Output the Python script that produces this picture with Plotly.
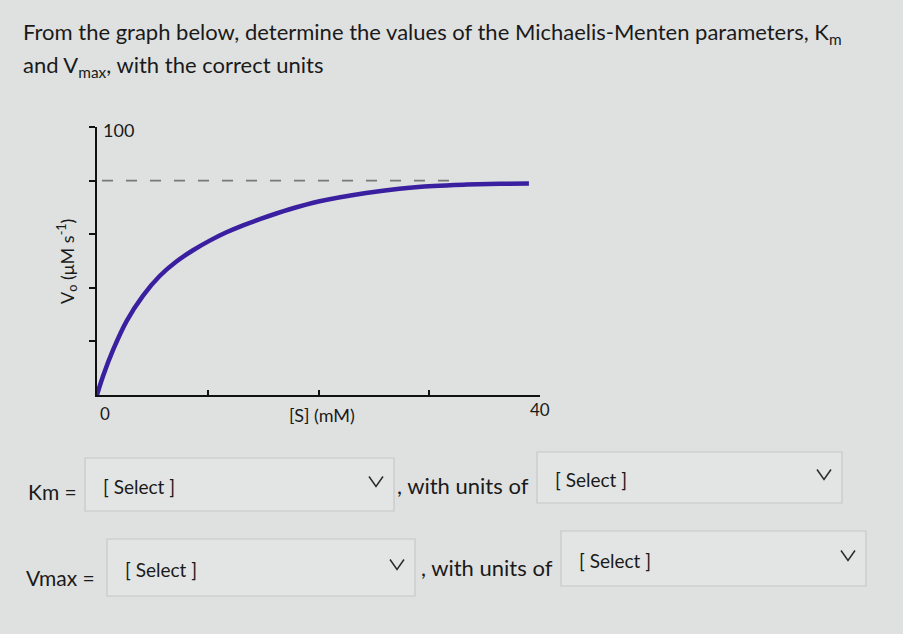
import plotly.graph_objects as go

W, H = 903, 634

# curve: [S] in mM, V0 in uM/s
substrate_mM = [0, 0.54, 1.45, 2.66, 4.16, 5.66, 7.17, 8.67, 10.18, 11.69,
                13.19, 14.7, 17.4, 20.1, 24.3, 27.3, 30.4, 33.4, 36.4, 39.0]
velocity = [0, 7.0, 16.8, 27.5, 37.1, 44.4, 49.8, 54.0, 57.6, 60.7,
            63.3, 65.6, 69.3, 72.3, 75.4, 77.0, 78.0, 78.5, 78.8, 78.9]
vmax_level = 80
dash_end_mM = 32
x_ticks = [10, 20, 30, 40]
y_ticks = [20, 40, 60, 80, 100]

BG = "#dfe1e0"
FONT = "Lato"


def px(x):
    return x / W


def py(y):
    return 1 - y / H


fig = go.Figure()

# Vmax guide
fig.add_trace(go.Scatter(
    x=[0.45, dash_end_mM], y=[vmax_level, vmax_level], mode="lines",
    line=dict(color="#767878", width=1.8, dash="11px,13px"),
    hoverinfo="skip", showlegend=False,
))
fig.add_trace(go.Scatter(
    x=substrate_mM, y=velocity, mode="lines",
    line=dict(color="#3a1fa0", width=4.5, shape="spline", smoothing=1.0),
    showlegend=False,
))

fig.update_xaxes(
    domain=[px(97), px(540)], range=[0, 40],
    showgrid=False, zeroline=False, showticklabels=False,
    showline=True, linecolor="#111", linewidth=2.2,
    ticks="inside", tickvals=x_ticks, ticklen=5, tickwidth=1.5, tickcolor="#111",
)
fig.update_yaxes(
    domain=[py(395), py(127)], range=[0, 100],
    showgrid=False, zeroline=False, showticklabels=False,
    showline=True, linecolor="#111", linewidth=2.2,
    ticks="outside", tickvals=y_ticks, ticklen=6, tickwidth=1.5, tickcolor="#111",
)

ann = []
txt = dict(family=FONT, color="#1a1a1a")

# axis labels of the small graph
ann.append(dict(x=0, y=100, xref="x", yref="y", text="100", showarrow=False,
                xanchor="left", yanchor="middle", xshift=4, yshift=-3,
                font=dict(size=18, **txt)))
ann.append(dict(x=0, y=0, xref="x", yref="y", text="0", showarrow=False,
                xanchor="left", yanchor="top", xshift=1, yshift=-6,
                font=dict(size=17, **txt)))
ann.append(dict(x=40, y=0, xref="x", yref="y", text="40", showarrow=False,
                xanchor="center", yanchor="top", yshift=-2,
                font=dict(size=17, **txt)))
ann.append(dict(x=20.3, y=0, xref="x", yref="y", text="[S] (mM)", showarrow=False,
                xanchor="center", yanchor="top", yshift=-7,
                font=dict(size=18, **txt)))
ann.append(dict(x=px(67), y=py(262), xref="paper", yref="paper",
                text="V<sub>o</sub> (μM s<sup>-1</sup>)", showarrow=False,
                textangle=-90, xanchor="center", yanchor="middle",
                font=dict(size=18, **txt)))

# question text
ann.append(dict(x=px(21), y=py(33), xref="paper", yref="paper",
                text="From the graph below, determine the values of the Michaelis-Menten parameters, K<sub>m</sub>",
                showarrow=False, xanchor="left", yanchor="middle",
                font=dict(size=22, **txt)))
ann.append(dict(x=px(21), y=py(66), xref="paper", yref="paper",
                text="and V<sub>max</sub>, with the correct units",
                showarrow=False, xanchor="left", yanchor="middle",
                font=dict(size=22, **txt)))

shapes = []
# answer rows: label, box1, units text, box2
rows = [
    dict(label="Km =", lx=26, ly=492, b1=(85, 458, 394, 511), u=(395, 485), b2=(537, 452, 842, 503)),
    dict(label="Vmax =", lx=24, ly=577, b1=(107, 539, 415, 596), u=(419, 567), b2=(561, 531, 866, 586)),
]
for r in rows:
    ann.append(dict(x=px(r["lx"]), y=py(r["ly"]), xref="paper", yref="paper",
                    text=r["label"], showarrow=False, xanchor="left", yanchor="middle",
                    font=dict(size=21, **txt)))
    ann.append(dict(x=px(r["u"][0]), y=py(r["u"][1]), xref="paper", yref="paper",
                    text=", with units of", showarrow=False, xanchor="left", yanchor="middle",
                    font=dict(size=22, **txt)))
    for (x0, y0, x1, y1) in (r["b1"], r["b2"]):
        shapes.append(dict(type="rect", xref="paper", yref="paper",
                           x0=px(x0), x1=px(x1), y0=py(y1), y1=py(y0),
                           line=dict(color="#c6c8c7", width=1.2), fillcolor="#e3e5e4",
                           layer="below"))
        yc = (y0 + y1) / 2
        ann.append(dict(x=px(x0 + 16), y=py(yc + 2), xref="paper", yref="paper",
                        text="[ Select ]", showarrow=False, xanchor="left", yanchor="middle",
                        font=dict(size=19, **txt)))
        cx, cy = x1 - 18, yc - 3
        shapes.append(dict(type="path", xref="paper", yref="paper",
                           path=f"M {px(cx - 7)} {py(cy - 5)} L {px(cx)} {py(cy + 5)} L {px(cx + 7)} {py(cy - 5)}",
                           line=dict(color="#2a2a2a", width=1.5)))

fig.update_layout(
    width=W, height=H,
    margin=dict(l=0, r=0, t=0, b=0, pad=0),
    paper_bgcolor=BG, plot_bgcolor=BG,
    annotations=ann, shapes=shapes,
    font=dict(family=FONT),
)

fig.write_html("out.html", config={"displayModeBar": False},
               post_script="document.body.style.margin='0';")
